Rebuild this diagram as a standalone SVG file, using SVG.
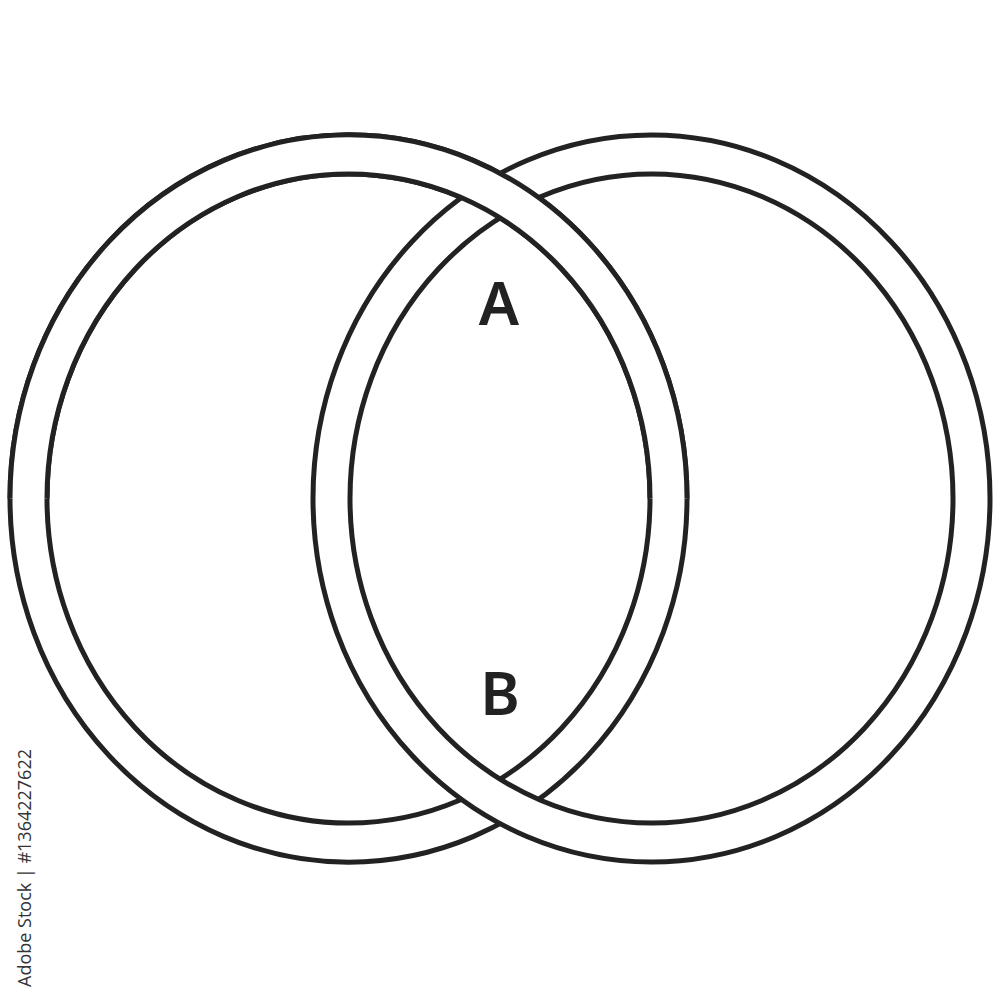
<svg xmlns="http://www.w3.org/2000/svg" width="1000" height="1000" viewBox="0 0 1000 1000">
  <style>
    .ring { fill: #ffffff; fill-rule: evenodd; stroke: #222222; stroke-width: 5; }
    .label { font-family: "Noto Sans", "DejaVu Sans", sans-serif; font-weight: 600; font-size: 60px; fill: #222222; text-anchor: middle; }
    .credit { font-family: "Open Sans", "Liberation Sans", sans-serif; font-size: 18px; fill: #333333; text-anchor: middle; }
  </style>
  <defs>
    <path id="leftRingShape" d="M10,498.5 A338.5,363.5 0 1 0 687,498.5 A338.5,363.5 0 1 0 10,498.5 Z M47,498.5 A301.5,324.5 0 1 0 650,498.5 A301.5,324.5 0 1 0 47,498.5 Z"/>
    <path id="rightRingShape" d="M313,498.5 A338.5,363.5 0 1 0 990,498.5 A338.5,363.5 0 1 0 313,498.5 Z M350,498.5 A301.5,324.5 0 1 0 953,498.5 A301.5,324.5 0 1 0 350,498.5 Z"/>
    <clipPath id="upperHalf">
      <rect x="0" y="0" width="1000" height="498.5"/>
    </clipPath>
  </defs>
  <rect width="1000" height="1000" fill="#ffffff"/>
  <g id="ring-left">
    <use href="#leftRingShape" class="ring"/>
  </g>
  <g id="ring-right">
    <use href="#rightRingShape" class="ring"/>
  </g>
  <g id="ring-left-over">
    <use href="#leftRingShape" class="ring" clip-path="url(#upperHalf)"/>
  </g>
  <g id="label-a">
    <text class="label" x="499" y="325">A</text>
  </g>
  <g id="label-b">
    <text class="label" x="500" y="715">B</text>
  </g>
  <g id="credit">
    <text class="credit" transform="translate(31,868) rotate(-90)">Adobe Stock | #1364227622</text>
  </g>
</svg>
